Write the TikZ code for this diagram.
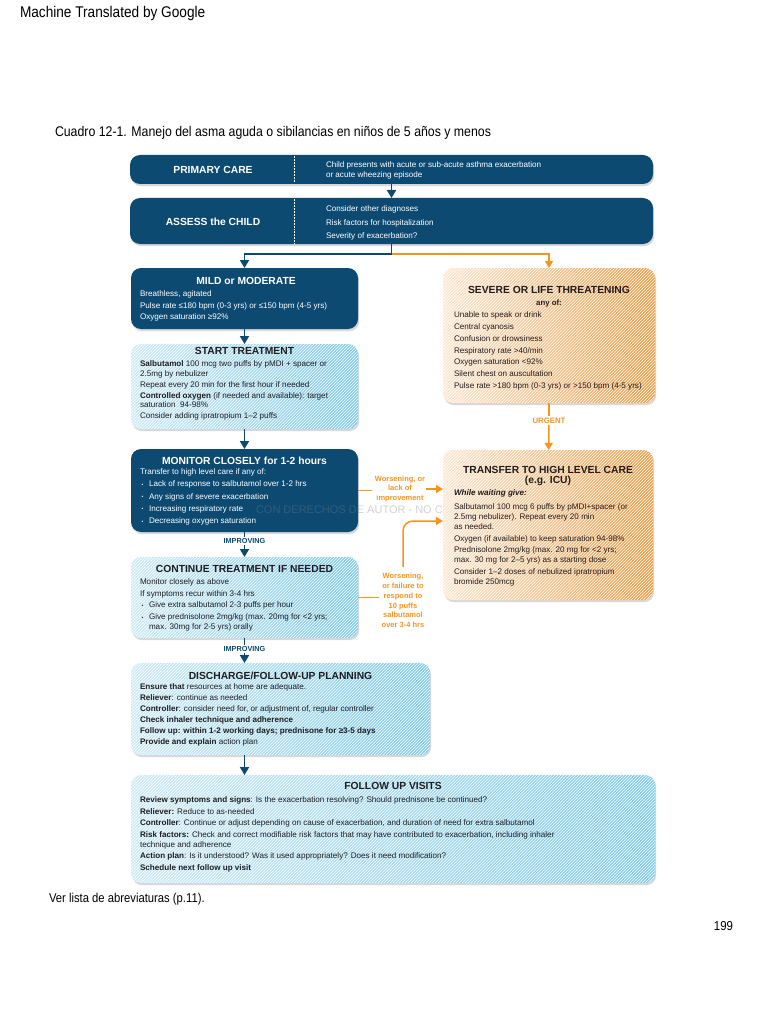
\documentclass[tikz,border=0pt]{standalone}
\usepackage{fontspec}
\setmainfont{Liberation Sans}
\newfontfamily\pagefont[FakeStretch=0.88]{Liberation Sans}
\usetikzlibrary{positioning,calc,arrows.meta,shadows,patterns}

\definecolor{careblue}{HTML}{0D4A72}
\definecolor{skyleft}{HTML}{CDEBF9}
\definecolor{skyright}{HTML}{80CBEF}
\definecolor{peachleft}{HTML}{FDE6CF}
\definecolor{peachright}{HTML}{F69C45}
\definecolor{warnorange}{HTML}{F7941E}
\definecolor{inktext}{HTML}{1E1E1E}

\newcommand\careitem{\makebox[9pt][l]{\hspace{1.5pt}\raisebox{0.6pt}{\fontsize{5}{5}\selectfont\textbullet}}}

\begin{document}
\begin{tikzpicture}
   [x=1pt,y=-1pt,
    every node/.style={inner sep=0pt,outer sep=0pt},
    carebox/.style={rectangle,rounded corners=10pt,
      drop shadow={shadow xshift=1.2pt,shadow yshift=-2.2pt,opacity=0.3}},
    darkbox/.style={carebox,fill=careblue},
    skybox/.style={carebox,left color=skyleft,right color=skyright,
      postaction={pattern=north east lines,pattern color=white,fill opacity=0.6}},
    peachbox/.style={carebox,left color=peachleft,right color=peachright,
      postaction={pattern=north east lines,pattern color=white,fill opacity=0.6}},
    boxtitle/.style={font=\fontsize{10.3}{10.6}\selectfont\bfseries,align=center},
    boxtext/.style={font=\fontsize{8.1}{10}\selectfont,align=left,anchor=north west},
    flowlabel/.style={font=\fontsize{7.5}{9.8}\selectfont\bfseries,text=warnorange,align=center},
    steplabel/.style={font=\fontsize{7.3}{8}\selectfont\bfseries,text=careblue,inner sep=1.5pt},
    blueline/.style={draw=careblue,line width=1.8pt},
    bluearrow/.style={blueline,-{Triangle[width=9pt,length=8pt]}},
    orangeline/.style={draw=warnorange,line width=1.5pt},
    orangearrow/.style={orangeline,-{Triangle[width=8pt,length=7pt]}}]

   \fill[white] (0,0) rectangle (768,1024);
   \useasboundingbox (0,0) rectangle (768,1024);

   % page texts
   \node[anchor=west,font=\pagefont\fontsize{15.5}{16}\selectfont] (machine) at (20,13) {Machine Translated by Google};
   \node[anchor=west,font=\pagefont\fontsize{14}{15}\selectfont] (caption) at (55,133) {Cuadro 12-1. Manejo del asma aguda o sibilancias en niños de 5 años y menos};
   \node[anchor=west,font=\pagefont\fontsize{12.8}{13}\selectfont] (abbrev) at (49,899) {Ver lista de abreviaturas (p.11).};
   \node[anchor=east,font=\pagefont\fontsize{13}{13}\selectfont] (pageno) at (733,926) {199};

   % boxes
   \node[darkbox,minimum width=523pt,minimum height=29pt] (primary) at (391.5,169.5) {};
   \node[darkbox,minimum width=523pt,minimum height=46pt] (assess) at (391.5,221) {};
   \node[darkbox,minimum width=227pt,minimum height=61pt] (mild) at (244.5,298.5) {};
   \node[skybox,minimum width=227pt,minimum height=85pt] (start) at (244.5,386.5) {};
   \node[darkbox,minimum width=227pt,minimum height=83pt] (monitor) at (244.5,490.5) {};
   \node[skybox,minimum width=227pt,minimum height=81pt] (continue) at (244.5,597.5) {};
   \node[skybox,minimum width=299pt,minimum height=92pt] (discharge) at (280.5,709) {};
   \node[skybox,minimum width=524pt,minimum height=108pt] (followup) at (393,829) {};
   \node[peachbox,minimum width=212pt,minimum height=135pt] (severe) at (549,335.5) {};
   \node[peachbox,minimum width=210pt,minimum height=150pt] (transfer) at (548,525) {};

   \draw[white,densely dotted,line width=0.5pt] (294,156) -- (294,183);
   \draw[white,densely dotted,line width=0.5pt] (294,199) -- (294,243);

   \node[anchor=west,font=\fontsize{11}{11}\selectfont,text=gray,text opacity=0.35] (stamp) at (256,510) {CON DERECHOS DE AUTOR - NO C};

   % titles
   \node[boxtitle,text=white] (primaryT) at (213,169.5) {PRIMARY CARE};
   \node[boxtitle,text=white] (assessT) at (213,222) {ASSESS the CHILD};
   \node[boxtitle,text=white] (mildT) at (246,281) {MILD or MODERATE};
   \node[boxtitle,text=inktext] (startT) at (244.5,351) {START TREATMENT};
   \node[boxtitle,text=white] (monitorT) at (244.5,461) {MONITOR CLOSELY for 1-2 hours};
   \node[boxtitle,text=inktext] (continueT) at (244.5,569) {CONTINUE TREATMENT IF NEEDED};
   \node[boxtitle,text=inktext] (dischargeT) at (280.5,676) {DISCHARGE/FOLLOW-UP PLANNING};
   \node[boxtitle,text=inktext] (followT) at (393,786) {FOLLOW UP VISITS};
   \node[boxtitle,text=inktext] (severeT) at (549,290) {SEVERE OR LIFE THREATENING};
   \node[boxtitle,text=inktext,font=\fontsize{7.8}{9}\selectfont\bfseries] (anyof) at (549,303) {any of:};
   \node[boxtitle,text=inktext] (transferT) at (548,476) {TRANSFER TO HIGH LEVEL CARE\\(e.g. ICU)};

   % box texts
   \node[boxtext,text=white,font=\fontsize{8.1}{9.5}\selectfont] (primaryB) at (326,161.8)
      {Child presents with acute or sub-acute asthma exacerbation\\or acute wheezing episode};
   \node[boxtext,text=white,font=\fontsize{8.1}{13.5}\selectfont] (assessB) at (326,205.8)
      {Consider other diagnoses\\Risk factors for hospitalization\\Severity of exacerbation?};
   \node[boxtext,text=white,font=\fontsize{8.1}{11.5}\selectfont] (mildB) at (140,290.8)
      {Breathless, agitated\\Pulse rate ≤180 bpm (0-3 yrs) or ≤150 bpm (4-5 yrs)\\Oxygen saturation ≥92\%};
   \node[boxtext,text=inktext,font=\fontsize{8.1}{9.5}\selectfont] (startB) at (140,360.8)
      {\textbf{Salbutamol} 100 mcg two puffs by pMDI + spacer or\\2.5mg by nebulizer\\[1.5pt]
       Repeat every 20 min for the first hour if needed\\[1.5pt]
       \textbf{Controlled oxygen} (if needed and available): target\\saturation~ 94-98\%\\[1.5pt]
       Consider adding ipratropium 1–2 puffs};
   \node[boxtext,text=white,font=\fontsize{8.1}{12.3}\selectfont] (monitorB) at (140,468.8)
      {Transfer to high level care if any of:\\
       \careitem Lack of response to salbutamol over 1-2 hrs\\
       \careitem Any signs of severe exacerbation\\
       \careitem Increasing respiratory rate\\
       \careitem Decreasing oxygen saturation};
   \node[boxtext,text=inktext,font=\fontsize{8.1}{10}\selectfont] (continueB) at (140,578.8)
      {Monitor closely as above\\[1.5pt]
       If symptoms recur within 3-4 hrs\\[1.5pt]
       \careitem Give extra salbutamol 2-3 puffs per hour\\[2pt]
       \careitem Give prednisolone 2mg/kg (max. 20mg for <2 yrs;\\
       \hspace*{9pt}max. 30mg for 2-5 yrs) orally};
   \node[boxtext,text=inktext,font=\fontsize{8.1}{11}\selectfont] (dischargeB) at (140,683.8)
      {\textbf{Ensure that} resources at home are adequate.\\
       \textbf{Reliever}: continue as needed\\
       \textbf{Controller}: consider need for, or adjustment of, regular controller\\
       \textbf{Check inhaler technique and adherence}\\
       \textbf{Follow up: within 1-2 working days; prednisone for ≥3-5 days}\\
       \textbf{Provide and explain} action plan};
   \node[boxtext,text=inktext,font=\fontsize{8.1}{11.5}\selectfont] (followB) at (140,796.8)
      {\textbf{Review symptoms and signs}: Is the exacerbation resolving? Should prednisone be continued?\\
       \textbf{Reliever:} Reduce to as-needed\\
       \textbf{Controller}: Continue or adjust depending on cause of exacerbation, and duration of need for extra salbutamol\\
       \textbf{Risk factors:} Check and correct modifiable risk factors that may have contributed to exacerbation, including inhaler\\[-1.5pt]
       technique and adherence\\
       \textbf{Action plan}: Is it understood? Was it used appropriately? Does it need modification?\\
       \textbf{Schedule next follow up visit}};
   \node[boxtext,text=inktext,font=\fontsize{8.1}{11.8}\selectfont] (severeB) at (454,311.8)
      {Unable to speak or drink\\Central cyanosis\\Confusion or drowsiness\\Respiratory rate >40/min\\
       Oxygen saturation <92\%\\Silent chest on auscultation\\Pulse rate >180 bpm (0-3 yrs) or >150 bpm (4-5 yrs)};
   \node[boxtext,text=inktext,font=\fontsize{8.1}{10}\selectfont] (transferB) at (454,489.8)
      {\textbf{\textit{While waiting give:}}\\[3.5pt]
       Salbutamol 100 mcg 6 puffs by pMDI+spacer (or\\2.5mg nebulizer). Repeat every 20 min\\as needed.\\[2pt]
       Oxygen (if available) to keep saturation 94-98\%\\[1.5pt]
       Prednisolone 2mg/kg (max. 20 mg for <2 yrs;\\max. 30 mg for 2–5 yrs) as a starting dose\\[2pt]
       Consider 1–2 doses of nebulized ipratropium\\bromide 250mcg};

   % labels on connectors
   \node[steplabel] (improve1) at (244.5,541) {IMPROVING};
   \node[steplabel] (improve2) at (244.5,649) {IMPROVING};
   \node[flowlabel,font=\fontsize{7.8}{9}\selectfont\bfseries,inner sep=1.5pt] (urgent) at (549,420.5) {URGENT};
   \node[flowlabel] (worse1) at (400,489) {Worsening, or\\lack of\\improvement};
   \node[flowlabel] (worse2) at (403,600.5) {Worsening,\\or failure to\\respond to\\10 puffs\\salbutamol\\over 3-4 hrs};

   % connectors
   \coordinate (split) at ($(assess.south)+(0,10)$);
   \draw[bluearrow] (primary.south) -- (assess.north);
   \draw[orangearrow] (split) -| (severe.north);
   \draw[blueline] (assess.south) -- (split);
   \draw[bluearrow] (split) -| (mild.north);
   \draw[bluearrow] (mild) -- (start);
   \draw[bluearrow] (start) -- (monitor);
   \draw[blueline] (monitor) -- (improve1);
   \draw[bluearrow] (improve1) -- (continue);
   \draw[blueline] (continue) -- (improve2);
   \draw[bluearrow] (improve2) -- (improve2 |- discharge.north);
   \draw[bluearrow] (discharge.south -| improve2) -- (improve2 |- followup.north);
   \draw[orangeline] (severe) -- (urgent);
   \draw[orangearrow] (urgent) -- (transfer);
   \draw[orangeline,shorten >=3pt] (monitor.east) -- (monitor.east -| worse1.west);
   \draw[orangearrow,shorten <=1pt] (worse1.east) -- (worse1.east -| transfer.west);
   \draw[orangeline,shorten >=3pt] (continue.east) -- (continue.east -| worse2.west);
   \draw[orangearrow,rounded corners=10pt,shorten <=6pt] (worse2.north) |- ([yshift=4pt]transfer.west);
\end{tikzpicture}
\end{document}
